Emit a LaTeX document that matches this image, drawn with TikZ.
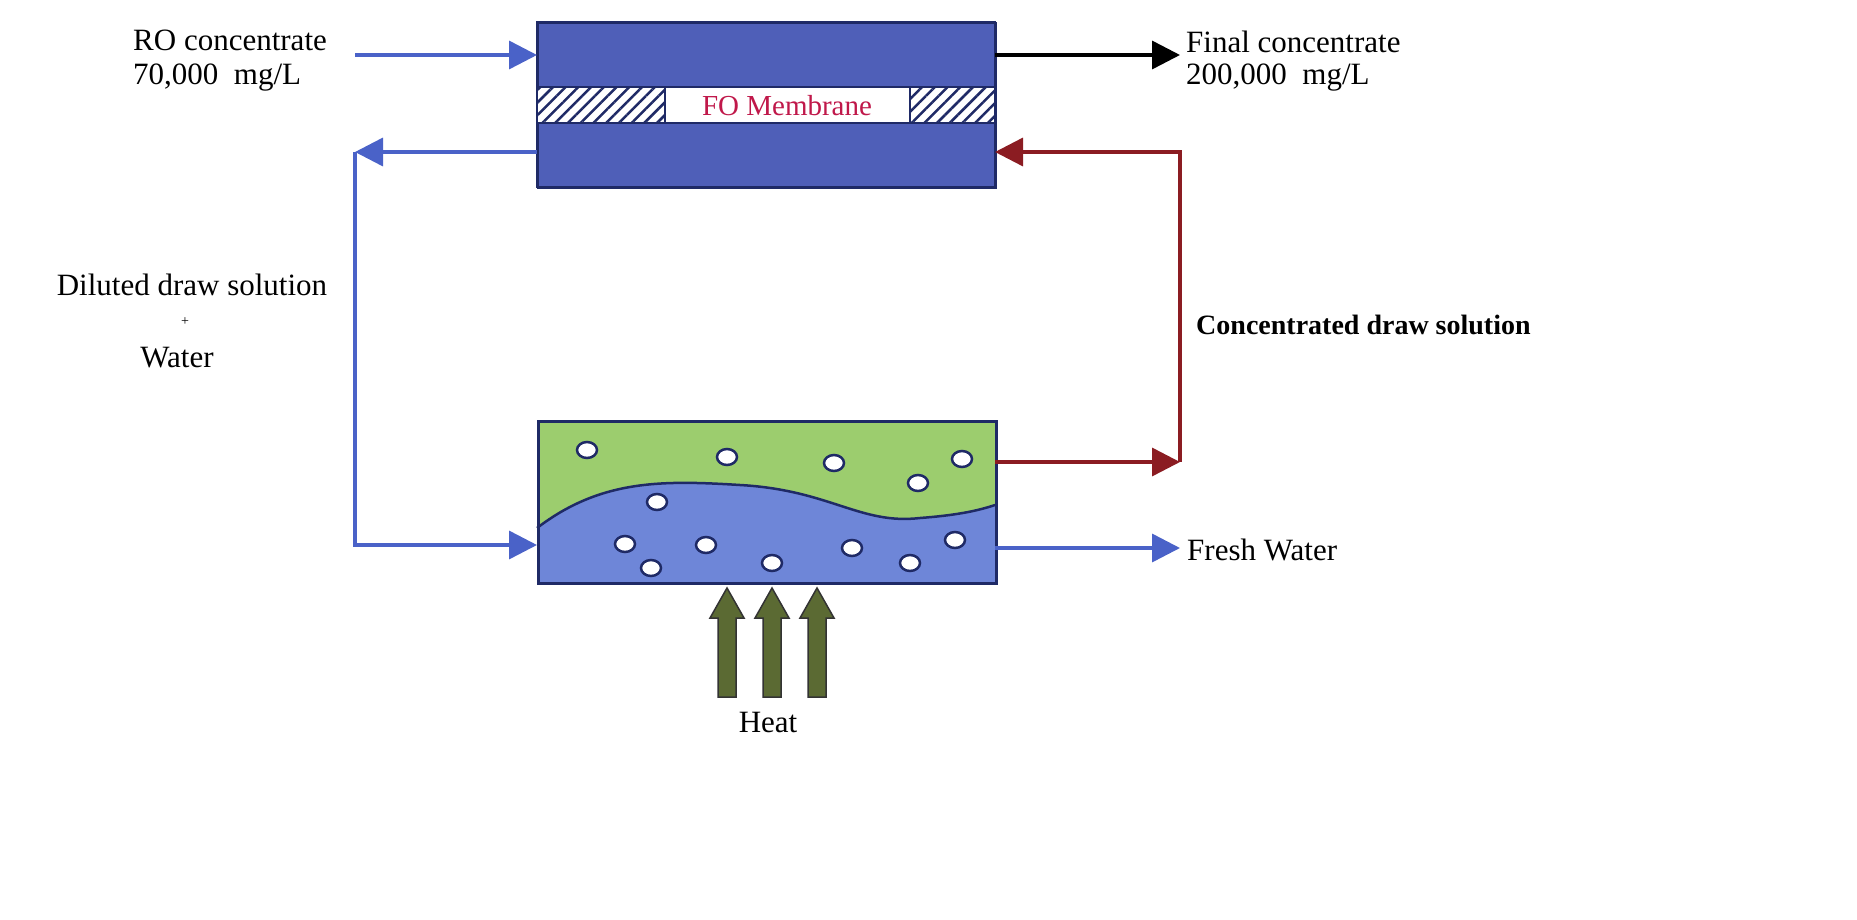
\documentclass[tikz,border=0pt]{standalone}
\usepackage{fontspec}
\setmainfont{Liberation Serif}
\usetikzlibrary{arrows.meta,patterns.meta}
\definecolor{boxblue}{HTML}{4F5FB8}
\definecolor{arrblue}{HTML}{4A62C8}
\definecolor{tankblue}{HTML}{6E86D8}
\definecolor{tankgreen}{HTML}{9CCD6E}
\definecolor{edge}{HTML}{1F2A66}
\definecolor{dred}{HTML}{8B1C22}
\definecolor{olive}{HTML}{5B6A33}
\definecolor{memred}{HTML}{C0184A}
\tikzset{
  flow/.style={line width=3.5pt,-{Triangle[length=28pt,width=28pt]}},
  lbl/.style={font=\fontsize{31}{34}\selectfont,anchor=west,inner sep=0},
  bub/.style={draw=edge,fill=white,line width=2.5pt},
  heat/.style={draw=black!80,fill=olive,line width=1.5pt},
  hatch/.style={pattern={Lines[angle=45,distance=9pt,line width=2.5pt]},pattern color=edge}
}
\begin{document}
\begin{tikzpicture}[x=1pt,y=-1pt]
\useasboundingbox (0,0) rectangle (1857,920);
% FO module
\node[draw=edge,fill=boxblue,line width=2pt,minimum width=458pt,minimum height=165pt,inner sep=0,anchor=north west] (fo) at (537,22) {};
\fill[white] (537,87) rectangle (995,123);
\fill[hatch] (537,87) rectangle (665,123);
\fill[hatch] (910,87) rectangle (995,123);
\draw[edge,line width=2pt] (537,87) rectangle (995,123) (665,87)--(665,123) (910,87)--(910,123);
\node[text=memred,font=\fontsize{29}{32}\selectfont] (mem) at (787,106) {FO Membrane};
\draw[edge,line width=2pt] (537,22) rectangle (995,187);
% tank
\fill[tankgreen] (537,420) rectangle (995,582);
\fill[tankblue] (537,528) .. controls (600,480) and (660,480) .. (740,485) .. controls (830,490) and (860,525) .. (920,518) .. controls (960,515) and (980,510) .. (995,505) -- (995,582) -- (537,582) -- cycle;
\draw[edge,line width=2.5pt] (537,528) .. controls (600,480) and (660,480) .. (740,485) .. controls (830,490) and (860,525) .. (920,518) .. controls (960,515) and (980,510) .. (995,505);
\node[draw=edge,line width=2.5pt,minimum width=458pt,minimum height=162pt,inner sep=0,anchor=north west] (tank) at (537,420) {};
\foreach \x/\y in {587/450,727/457,834/463,962/459,918/483,657/502,625/544,706/545,772/563,852/548,910/563,955/540,651/568}
  \draw[bub] (\x,\y) ellipse (10pt and 8pt);
% labels
\node[lbl] (ro1) at (133,40) {RO concentrate};
\node[lbl] (ro2) at (133,78) {70,000\ \ mg/L};
\node[lbl] (fc1) at (1186,42) {Final concentrate};
\node[lbl] (fc2) at (1186,78) {200,000\ \ mg/L};
\node[font=\fontsize{31}{34}\selectfont,inner sep=0] (dd) at (192,285) {Diluted draw solution};
\node[font=\fontsize{14}{16}\selectfont,inner sep=0] (pl) at (185,322) {+};
\node[font=\fontsize{31}{34}\selectfont,inner sep=0] (wa) at (177,358) {Water};
\node[lbl,font=\bfseries\fontsize{28}{32}\selectfont] (cd) at (1196,325) {Concentrated draw solution};
\node[lbl] (fw) at (1187,550) {Fresh Water};
\node[font=\fontsize{31}{34}\selectfont,inner sep=0] (heatl) at (768,722) {Heat};
% flows
\coordinate (roS) at (355,55); \coordinate (roE) at (537,55);
\draw[flow,arrblue] (roS) -- (roE);
\coordinate (fcS) at (995,55); \coordinate (fcE) at (1180,55);
\draw[flow,black] (fcS) -- (fcE);
\coordinate (dS) at (537,152); \coordinate (dL) at (355,152); \coordinate (dB) at (355,545); \coordinate (dE) at (537,545);
\draw[flow,arrblue] (dS) -- (dL);
\draw[flow,arrblue] (dL) -- (dB) -- (dE);
\coordinate (cS) at (995,462); \coordinate (cR) at (1180,462); \coordinate (cT) at (1180,152); \coordinate (cE) at (995,152);
\draw[flow,dred] (cS) -- (cR);
\draw[flow,dred] (cR) -- (cT) -- (cE);
\coordinate (fwS) at (995,548); \coordinate (fwE) at (1180,548);
\draw[flow,arrblue] (fwS) -- (fwE);
% heat arrows
\foreach \x in {727,772,817}
  \draw[heat] (\x-9,697) -- (\x-9,618) -- (\x-17,618) -- (\x,588) -- (\x+17,618) -- (\x+9,618) -- (\x+9,697) -- cycle;
\end{tikzpicture}
\end{document}
